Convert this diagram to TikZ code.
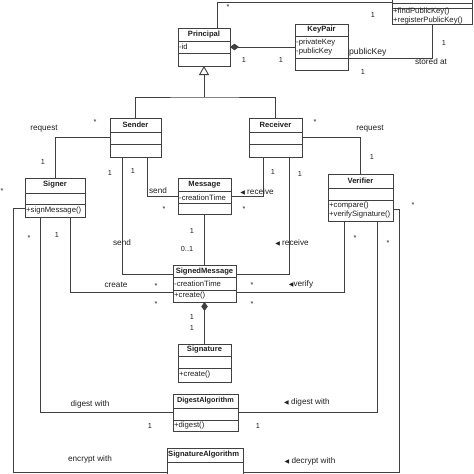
\documentclass[tikz,border=0pt]{standalone}
\usepackage{fontspec}
\setmainfont{Liberation Sans}
\newfontfamily\symf{DejaVu Sans}
\usetikzlibrary{arrows.meta}
\definecolor{lc}{rgb}{0.25,0.25,0.25}
\definecolor{txt}{rgb}{0.12,0.12,0.12}
\newcommand\lar{{\symf\fontsize{6}{6}\selectfont ◀}}
\tikzset{
  cls/.style={draw=lc, line width=0.9pt, rectangle, inner sep=0pt, outer sep=0pt, anchor=north west},
  conn/.style={draw=lc, line width=0.9pt},
  lbl/.style={font=\fontsize{8.2}{9}\selectfont, inner sep=0pt, text=txt},
  mult/.style={font=\fontsize{7.3}{8}\selectfont, inner sep=0pt, text=txt},
  ttl/.style={font=\bfseries\fontsize{7.6}{8}\selectfont, inner sep=0pt, text=txt},
  mem/.style={font=\fontsize{7.7}{8}\selectfont, inner sep=0pt, text=txt, anchor=west},
  comp/.style={conn, {Diamond[length=9pt,width=6.5pt]}-},
  gen/.style={conn, -{Triangle[open,length=9pt,width=10pt,line width=0.9pt]}},
}
\newcommand\divl[2]{\draw[conn] ([yshift=-#2pt]#1.north west) -- ([yshift=-#2pt]#1.north east);}
\begin{document}
\begin{tikzpicture}[x=1pt,y=-1pt]
\useasboundingbox (0,0) rectangle (474,474);
\clip (0,0) rectangle (474,474);
% ---------- classes ----------
\node[cls, minimum width=52pt, minimum height=38pt] (principal) at (178,28) {};
\divl{principal}{13}\divl{principal}{25}
\node[ttl] at (204,35) {Principal};
\node[mem] at (179,47) {-id};

\node[cls, minimum width=53pt, minimum height=46pt] (keypair) at (295,24) {};
\divl{keypair}{12}\divl{keypair}{34}
\node[ttl] at (321.5,30) {KeyPair};
\node[mem] at (296,43) {-privateKey};
\node[mem] at (296,52) {-publicKey};

\node[cls, minimum width=80pt, minimum height=44pt] (keysrv) at (392,-20) {};
\divl{keysrv}{23}\divl{keysrv}{28}
\node[mem] at (393,12) {+findPublicKey()};
\node[mem] at (393,20.5) {+registerPublicKey()};

\node[cls, minimum width=51pt, minimum height=39pt] (sender) at (110,118) {};
\divl{sender}{14}\divl{sender}{26}
\node[ttl] at (135.5,125) {Sender};

\node[cls, minimum width=53pt, minimum height=39pt] (receiver) at (249,118) {};
\divl{receiver}{14}\divl{receiver}{26}
\node[ttl] at (275.5,125) {Receiver};

\node[cls, minimum width=60pt, minimum height=39pt] (signer) at (25,178) {};
\divl{signer}{15}\divl{signer}{26}
\node[ttl] at (55,185) {Signer};
\node[mem] at (26,210.5) {+signMessage()};

\node[cls, minimum width=53pt, minimum height=36pt] (message) at (178,178) {};
\divl{message}{13}\divl{message}{25}
\node[ttl] at (204.5,184.5) {Message};
\node[mem] at (179,197.5) {-creationTime};

\node[cls, minimum width=65pt, minimum height=47pt] (verifier) at (328,174) {};
\divl{verifier}{14}\divl{verifier}{26}
\node[ttl] at (360.5,181) {Verifier};
\node[mem] at (329,206) {+compare()};
\node[mem] at (329,215) {+verifySignature()};

\node[cls, minimum width=63pt, minimum height=37pt] (signedmsg) at (173,265) {};
\divl{signedmsg}{12}\divl{signedmsg}{25}
\node[ttl] at (204.5,271.5) {SignedMessage};
\node[mem] at (174,283.5) {-creationTime};
\node[mem] at (174,296) {+create()};

\node[cls, minimum width=53pt, minimum height=38pt] (signature) at (178,344) {};
\divl{signature}{12}\divl{signature}{24}
\node[ttl] at (204.5,350) {Signature};
\node[mem] at (179,374.5) {+create()};

\node[cls, minimum width=65pt, minimum height=37pt] (digest) at (173,394) {};
\divl{digest}{14}\divl{digest}{26}
\node[ttl, font=\bfseries\fontsize{7.3}{8}\selectfont] at (205.5,400.5) {DigestAlgorithm};
\node[mem] at (174,426) {+digest()};

\node[cls, minimum width=76pt, minimum height=42pt] (sigalg) at (167,448) {};
\divl{sigalg}{14}
\node[ttl, anchor=west] at (168,455) {SignatureAlgorithm};

% ---------- connectors ----------
\draw[conn] ([xshift=13pt]principal.north) |- (keysrv.west);
\draw[comp] (principal.east) -- (keypair.west);
\draw[conn] ([yshift=-11pt]keypair.east) -| (keysrv.south);

\coordinate (gbar) at (204,97);
\draw[conn] (sender.north) |- (gbar) -| (receiver.north);
\draw[gen] (gbar) -- (principal.south);

\draw[conn] (sender.west) -| (signer.north);
\draw[conn] (receiver.east) -| (verifier.north);

\draw[conn] ([xshift=11.5pt]sender.south) |- (message.west);
\draw[conn] ([xshift=-12.5pt]receiver.south) |- (message.east);

\draw[conn] ([xshift=-13.5pt]sender.south) |- ([yshift=-9pt]signedmsg.north west);
\draw[conn] ([xshift=13.5pt]receiver.south) |- ([yshift=-9pt]signedmsg.north east);

\draw[conn] (message.south) -- (signedmsg.north);

\draw[conn] ([xshift=15pt]signer.south) |- ([yshift=-27pt]signedmsg.north west);
\draw[conn] ([xshift=-16.5pt]verifier.south) |- ([yshift=-27pt]signedmsg.north east);

\draw[comp] (signedmsg.south) -- (signature.north);

\draw[conn] ([xshift=-15pt]signer.south) |- (digest.west);
\draw[conn] ([xshift=16.5pt]verifier.south) |- (digest.east);

\coordinate (encbend) at (13,472);
\draw[conn] ([yshift=-10.5pt]signer.west) -| (encbend) -- ([yshift=-24pt]sigalg.north west);
\coordinate (decbend) at (399,472);
\draw[conn] ([yshift=-11.5pt]verifier.east) -| (decbend) -- ([yshift=-24pt]sigalg.north east);

% ---------- labels ----------
\node[mult] at (228,7) {*};
\node[mult] at (373,15) {1};
\node[mult] at (244,60) {1};
\node[mult] at (281,60) {1};
\node[lbl, anchor=west, font=\fontsize{8.6}{9}\selectfont] at (349,52) {publicKey};
\node[mult] at (444,43) {1};
\node[lbl] at (431,62) {stored at};
\node[mult] at (363,72) {1};

\node[lbl] at (44,129) {request};
\node[mult] at (95,122) {*};
\node[mult] at (43,162) {1};
\node[lbl] at (370,129) {request};
\node[mult] at (315,122) {*};
\node[mult] at (372,157) {1};

\node[lbl] at (158,191) {send};
\node[mult] at (133,171) {1};
\node[mult] at (164,209) {*};
\node[lbl] at (257,192) {\lar\ receive};
\node[mult] at (273,172) {1};
\node[mult] at (244,209) {*};

\node[lbl] at (122,243) {send};
\node[mult] at (110,173) {1};
\node[lbl] at (292,243) {\lar\ receive};
\node[mult] at (300,174) {1};

\node[mult] at (192,231) {1};
\node[mult] at (187,249) {0..1};

\node[lbl] at (116,285) {create};
\node[mult] at (156,286) {*};
\node[mult] at (156,304) {*};
\node[mult] at (57,235) {1};
\node[lbl] at (301,284) {\lar verify};
\node[mult] at (252,285) {*};
\node[mult] at (252,304) {*};
\node[mult] at (355,238) {*};
\node[mult] at (388,243) {*};
\node[mult] at (413,205) {*};

\node[mult] at (192,317) {1};
\node[mult] at (192,328) {1};

\node[lbl] at (90,404) {digest with};
\node[mult] at (150,426) {1};
\node[mult] at (29,238) {*};
\node[lbl] at (307,402) {\lar\ digest with};
\node[mult] at (258,426) {1};

\node[lbl] at (90,459) {encrypt with};
\node[mult] at (2,191) {*};
\node[lbl] at (310,461) {\lar\ decrypt with};
\end{tikzpicture}
\end{document}
